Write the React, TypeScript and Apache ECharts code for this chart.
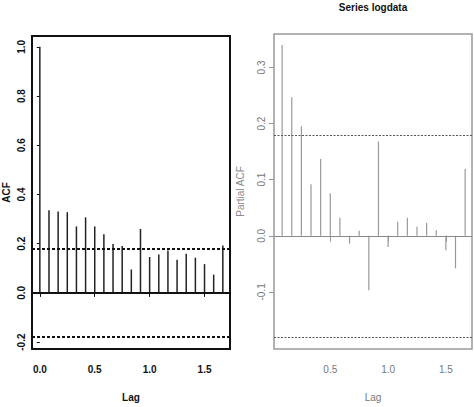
import React, { useEffect, useRef } from "react";
import * as echarts from "echarts";

const acfLags = [0, 0.0833, 0.1667, 0.25, 0.3333, 0.4167, 0.5, 0.5833, 0.6667, 0.75, 0.8333, 0.9167, 1.0, 1.0833, 1.1667, 1.25, 1.3333, 1.4167, 1.5, 1.5833, 1.6667];
const acfValues = [1.0, 0.336, 0.331, 0.328, 0.27, 0.307, 0.27, 0.238, 0.199, 0.191, 0.095, 0.26, 0.146, 0.156, 0.172, 0.135, 0.159, 0.143, 0.117, 0.074, 0.193];
const pacfLags = [0.0833, 0.1667, 0.25, 0.3333, 0.4167, 0.5, 0.5833, 0.6667, 0.75, 0.8333, 0.9167, 1.0, 1.0833, 1.1667, 1.25, 1.3333, 1.4167, 1.5, 1.5833, 1.6667];
const pacfValues = [0.34, 0.247, 0.195, 0.092, 0.137, 0.076, 0.032, -0.014, 0.009, -0.097, 0.168, -0.02, 0.025, 0.032, 0.016, 0.023, 0.01, -0.026, -0.058, 0.119];
const ciBound = 0.178;
const xTicks = [0, 0.5, 1.0, 1.5];
const acfYTicks = [-0.2, 0, 0.2, 0.4, 0.6, 0.8, 1.0];
const pacfYTicks = [-0.1, 0, 0.1, 0.2, 0.3];
const titleText = "Series logdata";

const FONT = "'Liberation Sans Narrow', 'Arial Narrow', 'Liberation Sans', sans-serif";

function stemItem(color: string, width: number) {
  return (params: any, api: any) => {
    const x = api.value(0);
    const y = api.value(1);
    const p0 = api.coord([x, 0]);
    const p1 = api.coord([x, y]);
    return {
      type: "line",
      shape: { x1: p0[0], y1: p0[1], x2: p1[0], y2: p1[1] },
      style: { stroke: color, lineWidth: width },
    };
  };
}

export default function App() {
  const ref = useRef<HTMLDivElement>(null);
  useEffect(() => {
    if (!ref.current) return;
    const chart = echarts.init(ref.current, undefined, { renderer: "svg" });
    const leftLabel = { fontFamily: FONT, fontSize: 10, fontWeight: "bold" as const, color: "#111" };
    const rightLabel = { fontFamily: FONT, fontSize: 10, color: "#777" };
    chart.setOption({
      animation: false,
      backgroundColor: "#fff",
      grid: [
        { left: 28, top: 36, width: 202, height: 318, show: true, borderColor: "#111", borderWidth: 2, backgroundColor: "transparent" },
        { left: 274, top: 34, width: 198, height: 320, show: true, borderColor: "#999", borderWidth: 1.5, backgroundColor: "transparent" },
      ],
      xAxis: [
        {
          type: "value", gridIndex: 0, min: -0.0714, max: 1.732,
          axisLine: { show: false }, splitLine: { show: false },
          axisTick: { show: true, customValues: xTicks, length: 4, lineStyle: { color: "#111" } },
          axisLabel: { ...leftLabel, customValues: xTicks, margin: 15, formatter: (v: number) => v.toFixed(1) },
          name: "Lag", nameLocation: "middle", nameGap: 43,
          nameTextStyle: { fontFamily: FONT, fontSize: 10, fontWeight: "bold", color: "#111" },
        },
        {
          type: "value", gridIndex: 1, min: 0.013, max: 1.726,
          axisLine: { show: false }, splitLine: { show: false },
          axisTick: { show: true, customValues: [0.5, 1.0, 1.5], length: 6, lineStyle: { color: "#999" } },
          axisLabel: { ...rightLabel, customValues: [0.5, 1.0, 1.5], margin: 15, formatter: (v: number) => v.toFixed(1) },
          name: "Lag", nameLocation: "middle", nameGap: 43,
          nameTextStyle: { fontFamily: FONT, fontSize: 10, color: "#777" },
        },
      ],
      yAxis: [
        {
          type: "value", gridIndex: 0, min: -0.228, max: 1.044,
          axisLine: { show: false }, splitLine: { show: false },
          axisTick: { show: true, customValues: acfYTicks, length: 3, lineStyle: { color: "#111" } },
          axisLabel: { ...leftLabel, customValues: acfYTicks, rotate: 90, margin: 6, formatter: (v: number) => v.toFixed(1) },
          name: "ACF", nameLocation: "middle", nameGap: 21, nameRotate: 90,
          nameTextStyle: { fontFamily: FONT, fontSize: 10, fontWeight: "bold", color: "#111" },
        },
        {
          type: "value", gridIndex: 1, min: -0.2018, max: 0.3596,
          axisLine: { show: false }, splitLine: { show: false },
          axisTick: { show: true, customValues: pacfYTicks, length: 5, lineStyle: { color: "#999" } },
          axisLabel: { ...rightLabel, customValues: pacfYTicks, rotate: 90, margin: 8, formatter: (v: number) => v.toFixed(1) },
          name: "Partial ACF", nameLocation: "middle", nameGap: 29, nameRotate: 90,
          nameTextStyle: { fontFamily: FONT, fontSize: 10, color: "#888", letterSpacing: 2 },
        },
      ],
      graphic: [
        {
          type: "text", x: 373, y: 7,
          style: { text: titleText, fontFamily: FONT, fontSize: 10, fontWeight: "bold", fill: "#111", textAlign: "center", textVerticalAlign: "middle" },
        },
      ],
      series: [
        {
          type: "custom", xAxisIndex: 0, yAxisIndex: 0,
          renderItem: stemItem("#222", 1.5),
          data: acfLags.map((l, i) => [l, acfValues[i]]),
          markLine: {
            silent: true, symbol: "none", label: { show: false },
            data: [
              { yAxis: 0, lineStyle: { color: "#111", width: 2, type: "solid" } },
              { yAxis: ciBound, lineStyle: { color: "#111", width: 2, type: [3, 2] } },
              { yAxis: -ciBound, lineStyle: { color: "#111", width: 2, type: [3, 2] } },
            ],
          },
        },
        {
          type: "custom", xAxisIndex: 1, yAxisIndex: 1,
          renderItem: stemItem("#999", 1.2),
          data: pacfLags.map((l, i) => [l, pacfValues[i]]),
          markLine: {
            silent: true, symbol: "none", label: { show: false },
            data: [
              { yAxis: 0, lineStyle: { color: "#888", width: 1, type: "solid" } },
              { yAxis: ciBound, lineStyle: { color: "#555", width: 1, type: [2, 1.5] } },
              { yAxis: -ciBound, lineStyle: { color: "#555", width: 1, type: [2, 1.5] } },
            ],
          },
        },
      ],
    });
    return () => chart.dispose();
  }, []);
  return <div ref={ref} style={{ position: "absolute", left: 0, top: 0, width: 474, height: 407 }} />;
}
